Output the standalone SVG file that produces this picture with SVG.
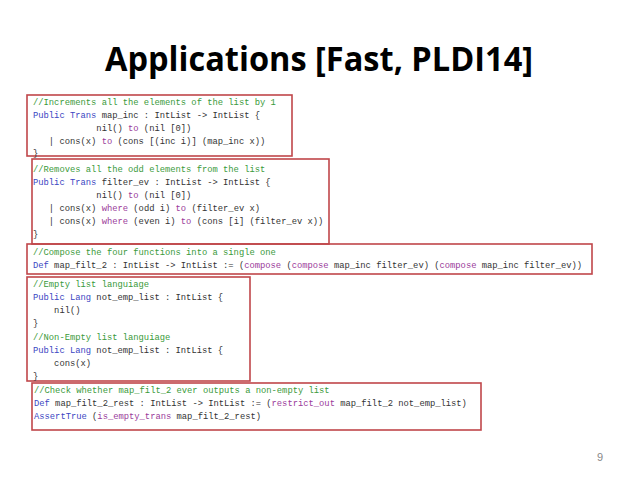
<svg xmlns="http://www.w3.org/2000/svg" width="638" height="478" viewBox="0 0 638 478">
<style>
text{font-family:"Liberation Mono","DejaVu Sans Mono",monospace;font-size:8.8px;fill:#333;white-space:pre}
.c{fill:#3a9a3a}.k{fill:#3b46c2}.p{fill:#9a3a9a}
.box{fill:none;stroke:#c0464a;stroke-width:1.6}
.title{font-family:"Open Sans","Liberation Sans",sans-serif;font-weight:bold;font-size:34px;fill:#000}
</style>
<rect width="638" height="478" fill="#fff"/>
<text class="title" x="319" y="71" text-anchor="middle" textLength="428" lengthAdjust="spacingAndGlyphs">Applications [Fast, PLDI14]</text>
<g id="box1">
<rect class="box" x="27" y="95" width="265" height="61"/>
<text x="33" y="105" class="c">//Increments all the elements of the list by 1</text>
<text x="33" y="118"><tspan class="k">Public Trans</tspan> map_inc : IntList -&gt; IntList {</text>
<text x="33" y="131">            nil() <tspan class="p">to</tspan> (nil [0])</text>
<text x="33" y="144">   | cons(x) <tspan class="p">to</tspan> (cons [(inc i)] (map_inc x))</text>
<text x="33" y="156">}</text>
</g>
<g id="box2">
<rect class="box" x="32" y="159" width="297" height="85"/>
<text x="33" y="172" class="c">//Removes all the odd elements from the list</text>
<text x="33" y="185"><tspan class="k">Public Trans</tspan> filter_ev : IntList -&gt; IntList {</text>
<text x="33" y="198">            nil() <tspan class="p">to</tspan> (nil [0])</text>
<text x="33" y="211">   | cons(x) <tspan class="p">where</tspan> (odd i) <tspan class="p">to</tspan> (filter_ev x)</text>
<text x="33" y="224">   | cons(x) <tspan class="p">where</tspan> (even i) <tspan class="p">to</tspan> (cons [i] (filter_ev x))</text>
<text x="33" y="237">}</text>
</g>
<g id="box3">
<rect class="box" x="27" y="244" width="565" height="30"/>
<text x="33" y="255" class="c">//Compose the four functions into a single one</text>
<text x="33" y="268"><tspan class="k">Def</tspan> map_filt_2 : IntList -&gt; IntList := (<tspan class="p">compose</tspan> (<tspan class="p">compose</tspan> map_inc filter_ev) (<tspan class="p">compose</tspan> map_inc filter_ev))</text>
</g>
<g id="box4">
<rect class="box" x="27" y="277" width="223" height="104"/>
<text x="33" y="287" class="c">//Empty list languiage</text>
<text x="33" y="300"><tspan class="k">Public Lang</tspan> not_emp_list : IntList {</text>
<text x="33" y="313">    nil()</text>
<text x="33" y="326">}</text>
<text x="33" y="340" class="c">//Non-Empty list languiage</text>
<text x="33" y="353"><tspan class="k">Public Lang</tspan> not_emp_list : IntList {</text>
<text x="33" y="366">    cons(x)</text>
<text x="33" y="379">}</text>
</g>
<g id="box5">
<rect class="box" x="32" y="383" width="449" height="47"/>
<text x="34" y="393" class="c">//Check whether map_filt_2 ever outputs a non-empty list</text>
<text x="34" y="406"><tspan class="k">Def</tspan> map_filt_2_rest : IntList -&gt; IntList := (<tspan class="p">restrict_out</tspan> map_filt_2 not_emp_list)</text>
<text x="34" y="419"><tspan class="k">AssertTrue</tspan> (<tspan class="p">is_empty_trans</tspan> map_filt_2_rest)</text>
</g>
<g id="connectors"/>
<text x="597" y="461" style="font-family:'Liberation Sans',sans-serif;font-size:11px;fill:#888">9</text>
</svg>
